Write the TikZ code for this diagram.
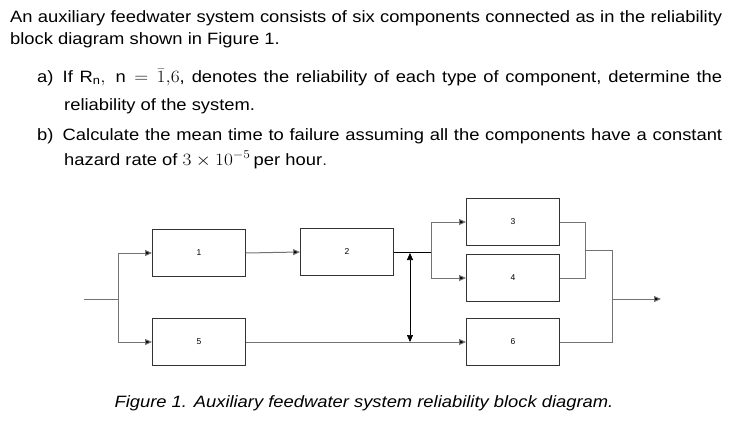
\documentclass[tikz,border=0pt]{standalone}
\usepackage{fontspec}
\setmainfont{Liberation Sans}
\usetikzlibrary{arrows.meta}
\newcommand{\wline}[2]{\scalebox{1.12}[1]{\hbox to #1{#2}}}
\begin{document}
\begin{tikzpicture}[x=1pt,y=-1pt,
  blk/.style={draw=black!80,line width=0.9pt,minimum width=93pt,minimum height=47pt,inner sep=0,font=\fontsize{8.5}{9}\selectfont},
  ln/.style={draw=black!55,line width=1pt},
  ar/.style={ln,-{Triangle[length=7pt,width=6pt,fill=black]}},
  txt/.style={anchor=base west,inner sep=0,font=\fontsize{16.4}{19}\selectfont}]
\useasboundingbox (0,0) rectangle (744,431);
\node[txt] (t1) at (10,22) {\wline{635.7pt}{An auxiliary feedwater system consists of six components connected as in the reliability}};
\node[txt] (t2) at (10,44) {\scalebox{1.12}[1]{block diagram shown in Figure 1.}};
\node[txt] (a1) at (37,82) {\wline{611.6pt}{a)\enspace If $\mathrm{R_n},\ \mathrm{n}=\bar{1}{,}6$, denotes the reliability of each type of component, determine the}};
\node[txt] (a2) at (64,110) {\scalebox{1.12}[1]{reliability of the system.}};
\node[txt] (b1) at (37,140) {\wline{611.6pt}{b)\enspace Calculate the mean time to failure assuming all the components have a constant}};
\node[txt] (b2) at (64,165) {\scalebox{1.12}[1]{hazard rate of $3\times10^{-5}\,\mathrm{per\ hour.}$}};
\node[inner sep=0,font=\itshape\fontsize{16.4}{19}\selectfont] (cap) at (364,403) {\scalebox{1.12}[1]{Figure 1. Auxiliary feedwater system reliability block diagram.}};
\node[blk] (b1x) at (199,253) {1};
\node[blk] (b2x) at (347,252) {2};
\node[blk] (b3x) at (513,222) {3};
\node[blk] (b4x) at (513,278) {4};
\node[blk] (b5x) at (199,342) {5};
\node[blk] (b6x) at (513,342) {6};
\coordinate (in) at (84,299);
\coordinate (j1) at (118,299);
\coordinate (j2) at (431,252);
\coordinate (j3) at (585,250);
\coordinate (j4) at (612,299);
\coordinate (out) at (661,299);
\draw[ln] (in) -- (j1);
\draw[ar] (j1) |- (b1x.west);
\draw[ar] (j1) |- (b5x.west);
\draw[ar] (b1x.east) -- (b2x.west);
\draw[ln,black] (b2x.east) -- (j2);
\draw[ar] (j2) |- (b3x.west);
\draw[ar] (j2) |- (b4x.west);
\draw[ar] (b5x.east) -- (b6x.west);
\draw[black,line width=0.7pt,{Triangle[length=7pt,width=6pt]}-{Triangle[length=7pt,width=6pt]}] (410,253) -- (410,342);
\draw[ln] (b3x.east) -| (j3);
\draw[ln] (b4x.east) -| (j3);
\draw[ln] (j3) -| (612,342) -- (b6x.east);
\draw[ar] (j4) -- (out);
\end{tikzpicture}
\end{document}
